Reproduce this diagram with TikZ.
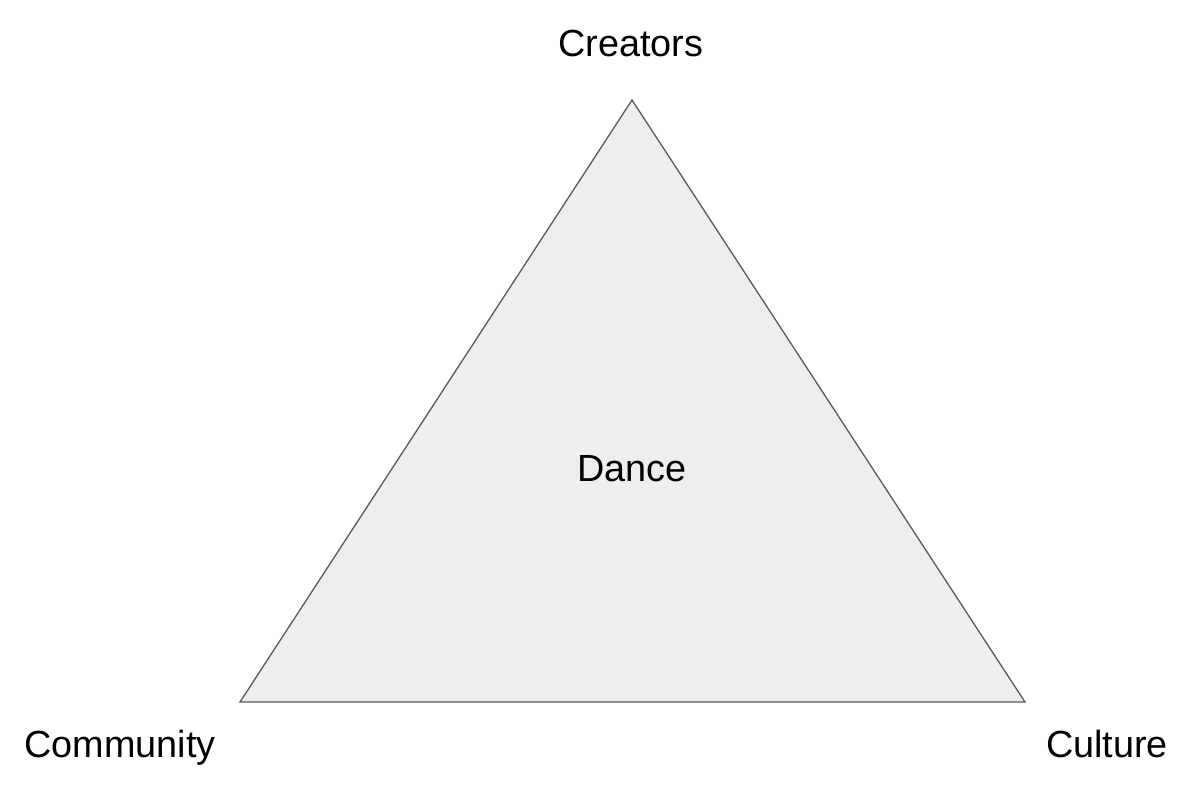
\documentclass[tikz,border=0pt]{standalone}
\usepackage{fontspec}
\setmainfont{Liberation Sans}
\usepackage{xcolor}
\definecolor{trifill}{HTML}{EEEEEE}
\definecolor{triline}{HTML}{595959}

\begin{document}
\begin{tikzpicture}[x=1pt,y=-1pt]
\tikzset{corner label/.style={anchor=base,font=\fontsize{37.8}{45}\selectfont}}
\tikzset{triangle/.style={draw=triline,fill=trifill,line width=1.3pt,line join=miter}}

\useasboundingbox (0,0) rectangle (1202,806);

\coordinate (top) at (632,100);
\coordinate (left) at (240,702);
\coordinate (right) at (1025,702);

\draw[triangle] (top) -- (left) -- (right) -- cycle;

\node[corner label] (creators) at (631,56) {Creators};
\node[corner label] (dance) at (632,481) {Dance};
\node[corner label] (community) at (120,757) {Community};
\node[corner label] (culture) at (1107,757) {Culture};

\end{tikzpicture}
\end{document}
